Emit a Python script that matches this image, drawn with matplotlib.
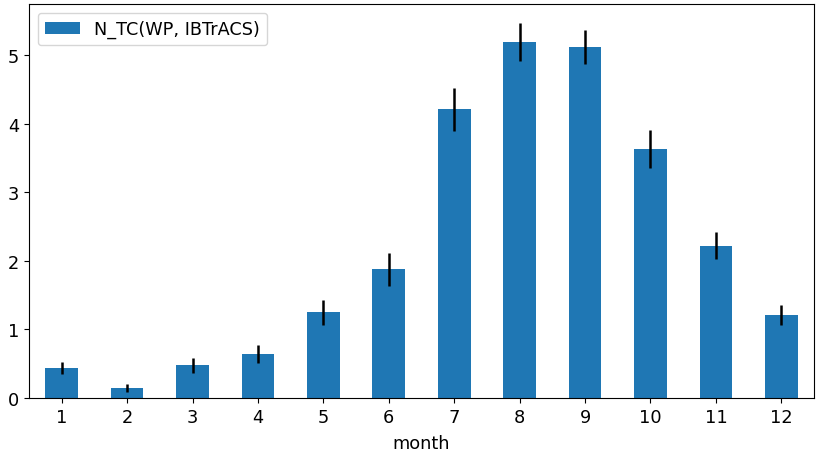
import numpy as np
import matplotlib
matplotlib.use("Agg")
import matplotlib.pyplot as plt

# nombre moyen de cyclones par mois (WP, IBTrACS)
mois = [1, 2, 3, 4, 5, 6, 7, 8, 9, 10, 11, 12]
n_tc = [0.44, 0.15, 0.48, 0.64, 1.25, 1.88, 4.21, 5.19, 5.12, 3.63, 2.22, 1.21]
erreur = [0.09, 0.06, 0.11, 0.13, 0.18, 0.24, 0.31, 0.28, 0.25, 0.28, 0.20, 0.14]

fig, ax = plt.subplots(figsize=(8.19, 4.6), dpi=100)
pos = np.arange(len(mois))
ax.bar(pos, n_tc, width=0.5, color="#1f77b4", yerr=erreur,
       error_kw={"ecolor": "black", "elinewidth": 1.8}, label="N_TC(WP, IBTrACS)")
ax.set_xticks(pos)
ax.set_xticklabels([str(m) for m in mois], fontsize=12.8)
ax.tick_params(axis="y", labelsize=12.8)
ax.set_xlim(-0.5, len(mois) - 0.5)
ax.set_xlabel("month", fontsize=12.8, labelpad=6)
ax.legend(loc="upper left", fontsize=12.7)
plt.subplots_adjust(left=0.0354, right=0.9939, top=0.989, bottom=0.1326)
plt.savefig("out.png")
